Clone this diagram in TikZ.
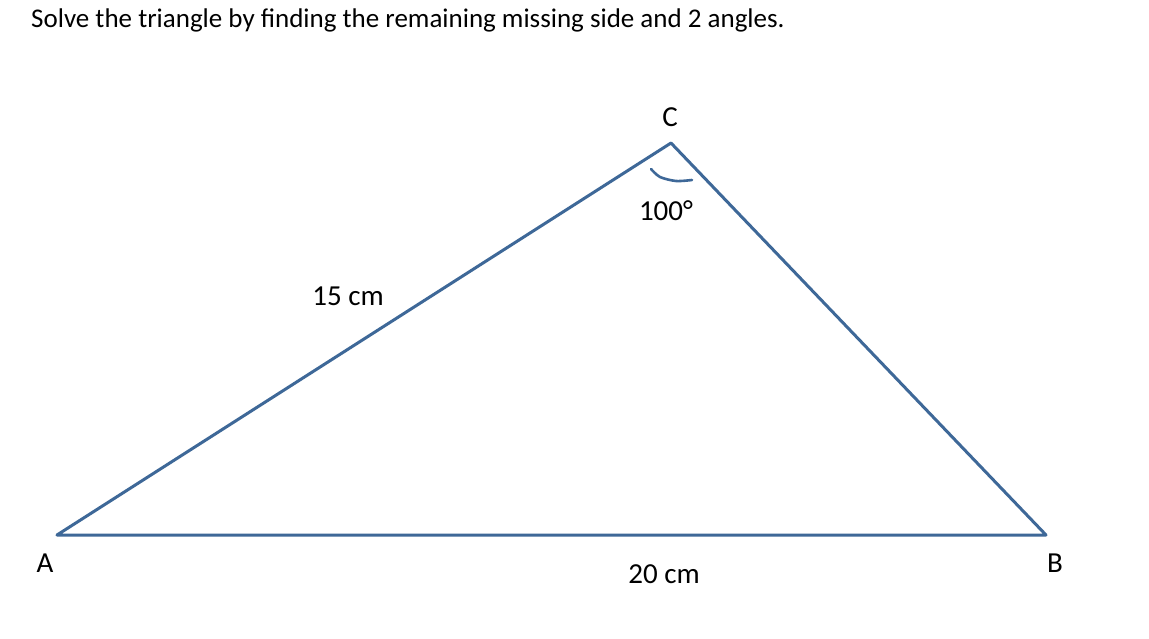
\documentclass[tikz,border=0pt]{standalone}
\usepackage{fontspec}
\setmainfont{Carlito}
\definecolor{sideblue}{RGB}{62,104,152}

\begin{document}
\begin{tikzpicture}[line cap=round,line join=round,x=1pt,y=-1pt,
  lbl/.style={inner sep=0pt,font=\fontsize{29}{35}\selectfont}]
\useasboundingbox[fill=white] (0,0) rectangle (1149,639);
% vertices
\coordinate (A) at (57,535);
\coordinate (B) at (1046,535);
\coordinate (C) at (671,143);
\draw[line width=3pt,color=sideblue] (A) -- (B) -- (C) -- cycle;
% angle mark at C
\draw[line width=2.6pt,color=sideblue] plot[smooth] coordinates {(651,169) (660,177) (676,181) (692,180)};
% labels
\node[lbl,anchor=west,font=\fontsize{27}{32}\selectfont] (title) at (31,20) {Solve the triangle by finding the remaining missing side and 2 angles.};
\node[lbl] (labC) at (670,117) {C};
\node[lbl] (labA) at (45,563) {A};
\node[lbl] (labB) at (1055,563) {B};
\node[lbl] (angC) at (666,211) {100°};
\node[lbl] (sideAC) at (348,296) {15 cm};
\node[lbl] (sideAB) at (664,574) {20 cm};
\end{tikzpicture}
\end{document}
